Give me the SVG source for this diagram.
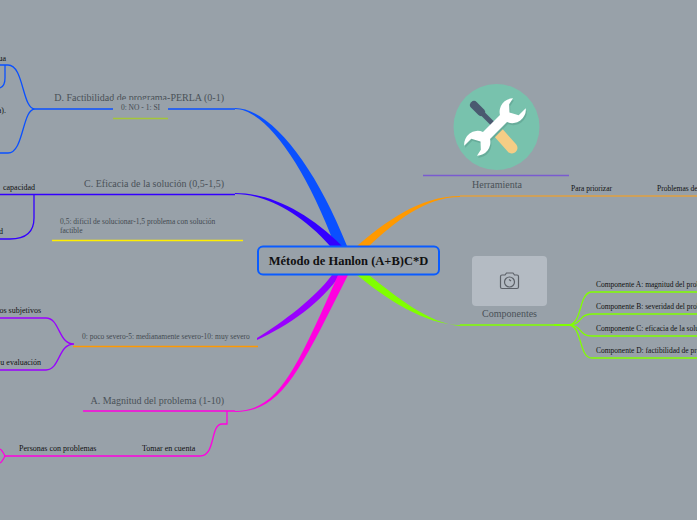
<svg xmlns="http://www.w3.org/2000/svg" width="697" height="520" viewBox="0 0 697 520">
<style>
text{font-family:"Liberation Serif",serif}
.lbl{font-size:8px;fill:#111}
.rt{font-size:7.500px;fill:#111}
.sub{font-size:7.500px;fill:#444b52}
.main{font-size:10px;fill:#4a5158}
.w{fill:none;stroke-width:1.300}
</style>
<defs>
<path id="wrench" d="M-12 -5H12A13.500 13.500 0 0 1 33 -7.500L26 -6L20.500 0L25 8.500L35 8.500A13.500 13.500 0 0 1 12 5H-12A13.500 13.500 0 0 1 -33 7.500L-26 6L-20.500 0L-25 -8.500L-35 -8.500A13.500 13.500 0 0 1 -12 -5Z"/>
</defs>
<rect width="697" height="520" fill="#98a1a9"/>
<g id="connectors">
<path d="M235 109C265 109 305 165 335 246L347 246C315 165 270 108 235 108Z" fill="#0a50ff"/>
<path d="M235 194C265 194 300 212 330 246L342 246C308 212 270 193 235 193Z" fill="#3300ff"/>
<path d="M257 338C283 322 315 298 332 275L340 275C322 302 288 326 257 340Z" fill="#9900ff"/>
<path d="M235 411C278 411 296 370 338 275L348 275C300 370 282 412 235 412Z" fill="#ff00e0"/>
<path d="M460 196C420 196 385 222 357 246L369 246C395 222 425 197 460 197Z" fill="#ff9900"/>
<path d="M460 325C425 325 385 298 357 275L369 275C395 296 430 324 460 326Z" fill="#80ff00"/>
<path class="w" stroke="#0a50ff" d="M113 109H35M168 109H235M35 109C22 109 24 65 8 65H0M35 109C22 109 24 153 8 153H0M5 65V78C5 84 3 87 0 88"/>
<path class="w" stroke="#3300ff" d="M0 194.500H235M34 194.500V218C34 232 26 239 10 239H0"/>
<path class="w" stroke="#9900ff" d="M74 344C58 344 60 318 46 318H0M74 344C58 344 60 370 46 370H0"/>
<path class="w" stroke="#ff00e0" d="M83 411H235M227 411V424H222C210 424 216 456 200 456H5M5 456C3 452 2 450 0 449M5 456C3 460 2 462 0 463"/>
<path class="w" stroke="#e0a040" d="M460 196H697"/>
<path class="w" stroke="#80ff00" d="M460 325H568M568 325C583 325 578 292 592 292H697M568 325C583 325 578 314 592 314H697M568 325C583 325 578 336 592 336H697M568 325C583 325 578 358 592 358H697"/>
<path d="M554 325H570" stroke="#80ff00" stroke-width="2"/>
</g>
<g id="center">
<rect x="258" y="246.500" width="181" height="28" rx="5" fill="#98a1a9" stroke="#0a5cff" stroke-width="2"/>
<text x="348.500" y="265" text-anchor="middle" font-size="12.500" font-weight="bold" fill="#111">Método de Hanlon (A+B)C*D</text>
</g>
<g id="node-d">
<text class="main" x="224" y="101" text-anchor="end">D. Factibilidad de programa-PERLA (0-1)</text>
<rect x="113" y="100" width="55" height="16" fill="#98a1a9"/>
<text class="sub" x="140.500" y="110" text-anchor="middle">0: NO - 1: SI</text>
<path d="M113 118.500H168" stroke="#a4c639" stroke-width="1.500"/>
<text class="lbl" x="6" y="61" text-anchor="end">ua</text>
<text class="lbl" x="6" y="113" text-anchor="end">a).</text>
</g>
<g id="node-c">
<text class="main" x="224" y="187" text-anchor="end">C. Eficacia de la solución (0,5-1,5)</text>
<text class="lbl" x="35" y="190" text-anchor="end">capacidad</text>
<text class="lbl" x="3" y="234" text-anchor="end">d</text>
<text class="sub" x="60" y="224">0,5: dificil de solucionar-1,5 problema con solución</text>
<text class="sub" x="60" y="233">factible</text>
<path d="M52 240.500H243" stroke="#ffee00" stroke-width="1.500"/>
</g>
<g id="node-b">
<text class="sub" x="82" y="339">0: poco severo-5: medianamente severo-10: muy severo</text>
<path d="M73 346.500H258" stroke="#ff9900" stroke-width="1.500"/>
<text class="lbl" x="41" y="313" text-anchor="end">os subjetivos</text>
<text class="lbl" x="41" y="365" text-anchor="end">u evaluación</text>
</g>
<g id="node-a">
<text class="main" x="224" y="404" text-anchor="end">A. Magnitud del problema (1-10)</text>
<text class="lbl" x="19" y="451">Personas con problemas</text>
<text class="lbl" x="142" y="451">Tomar en cuenta</text>
</g>
<g id="node-herramienta">
<circle cx="496.500" cy="127" r="43" fill="#78c2ad"/>
<path d="M474 105L481 112" stroke="#4a5a70" stroke-width="8" stroke-linecap="round"/>
<path d="M481 112L494 125" stroke="#4a5a70" stroke-width="5"/>
<path d="M496 130L512 148" stroke="#f5cd85" stroke-width="11" stroke-linecap="round"/>
<use href="#wrench" transform="translate(496 129) rotate(-45)" fill="#68ad9b"/>
<use href="#wrench" transform="translate(495 127) rotate(-45)" fill="#fff"/>
<path d="M423 175.500H569" stroke="#7a5bd0" stroke-width="1.500"/>
<text class="main" x="497" y="188" text-anchor="middle">Herramienta</text>
<text class="rt" x="571" y="191">Para priorizar</text>
<text class="rt" x="657" y="191">Problemas de</text>
</g>
<g id="node-componentes">
<rect x="472" y="256" width="75" height="50" rx="4" fill="#b4bbc3"/>
<g fill="none" stroke="#5c6168" stroke-width="1.200">
<path d="M500.500 276.500A1.500 1.500 0 0 1 502 275H505L506.500 273H513L514.500 275H517A1.500 1.500 0 0 1 518.500 276.500V287A1.500 1.500 0 0 1 517 288.500H502A1.500 1.500 0 0 1 500.500 287Z"/>
<circle cx="509.500" cy="282" r="5"/>
<path d="M509 279.500L511 281"/>
</g>
<text class="main" x="509.500" y="317" text-anchor="middle">Componentes</text>
<text class="rt" x="596" y="287">Componente A: magnitud del problema</text>
<text class="rt" x="596" y="309">Componente B: severidad del problema</text>
<text class="rt" x="596" y="331">Componente C: eficacia de la solución</text>
<text class="rt" x="596" y="353">Componente D: factibilidad de programa</text>
</g>
</svg>
